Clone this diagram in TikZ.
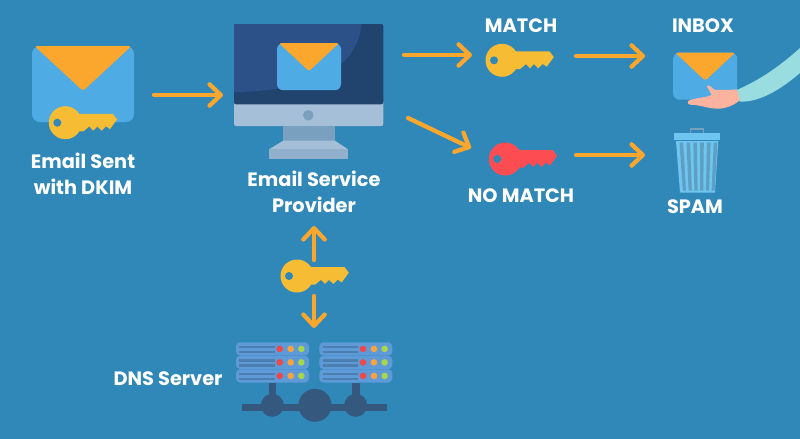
\documentclass[tikz,border=0pt]{standalone}
\usepackage{fontspec}
\setmainfont{Poppins}
\usetikzlibrary{arrows.meta}

\definecolor{bgblue}{HTML}{2F88B8}
\definecolor{mailblue}{HTML}{4EABE3}
\definecolor{flaporange}{HTML}{FBA62C}
\definecolor{keyyellow}{HTML}{F6BC33}
\definecolor{keyred}{HTML}{FE4D52}
\definecolor{screendark}{HTML}{21446F}
\definecolor{screenlight}{HTML}{2C5088}
\definecolor{bezel}{HTML}{A6BFD8}
\definecolor{neckblue}{HTML}{7AA0BF}
\definecolor{footblue}{HTML}{92AFCB}
\definecolor{sleeve}{HTML}{9ADDE0}
\definecolor{skin}{HTML}{FBB3A0}
\definecolor{binlight}{HTML}{6EC5F0}
\definecolor{bingrey}{HTML}{5E9FC4}
\definecolor{rackblue}{HTML}{5E9AD8}
\definecolor{rackbar}{HTML}{4A7FB0}
\definecolor{netdark}{HTML}{35587E}
\definecolor{ledred}{HTML}{F04848}
\definecolor{ledorange}{HTML}{F9A23E}
\definecolor{ledgreen}{HTML}{A8D64A}

\tikzset{
  flow/.style={draw=flaporange,line width=3.2pt,line cap=round,-{Straight Barb[length=8.5pt,width=16pt,round]}},
  caption/.style={text=white,font=\bfseries\fontsize{14.5}{16}\selectfont,inner sep=0pt,align=center},
  every pic/.style={yscale=-1},
  keyicon/.pic={
    \fill[pic actions] (0,0) circle (16.5);
    \fill[pic actions] (10,-8.9) -- (47.5,-8.9) -- (51.8,-3.3) -- (44.7,6.4) -- (40.7,3.6) -- (36.3,8) -- (32,3.8) -- (28,8) -- (24,3.8) -- (18,8.7) -- (10,8.7) -- cycle;
    \fill[bgblue] (-8,0) circle (4);
  },
  bigmail/.pic={
    \fill[mailblue,rounded corners=6] (-51,-38) rectangle (51,38);
    \fill[flaporange,rounded corners=2] (-48.5,-38) -- (48.5,-38) -- (0,7) -- cycle;
  },
  smallmail/.pic={
    \fill[mailblue,rounded corners=4.5] (-32,-23.5) rectangle (32,23.5);
    \fill[flaporange,rounded corners=1.5] (-30,-23.5) -- (30,-23.5) -- (0,4.5) -- cycle;
  },
  rack/.pic={
    \foreach \rowy in {0,13.5,27}{
      \fill[rackblue,rounded corners=3] (0,\rowy) rectangle (73,\rowy+13.2);
      \fill[rackbar] (3.3,\rowy+3.3) rectangle (39,\rowy+5.8);
      \fill[rackbar] (3.3,\rowy+8.3) rectangle (39,\rowy+10.8);
      \fill[ledred] (43.7,\rowy+6.6) circle (3.3);
      \fill[ledorange] (54.7,\rowy+6.6) circle (3.3);
      \fill[ledgreen] (65.3,\rowy+6.6) circle (3.3);
    }
  }
}

\begin{document}
\begin{tikzpicture}[x=0.75pt,y=0.75pt,yscale=-1,xscale=1]
\useasboundingbox (0,0) rectangle (800,439);
\fill[bgblue] (0,0) rectangle (800,439);

%Envelope with key
\pic at (83,84) {bigmail};
\pic[keyyellow] at (65.3,122.7) {keyicon};

%Monitor
\fill[bezel,rounded corners=1.5] (234,100) rectangle (383.3,126);
\fill[screendark,rounded corners=1.5] (234,24) rectangle (383.3,104.3);
\fill[screenlight] (234,24) -- (361.7,24) .. controls (356,72) and (310,90) .. (234,92.3) -- cycle;
\fill[neckblue] (283.3,126) rectangle (335,141);
\fill[bezel] (283.3,140.7) -- (335,140.7) -- (348,149.3) -- (269,149.3) -- cycle;
\fill[footblue] (269,149.3) rectangle (348,159);
\fill[neckblue] (308.3,115.3) circle (5.3);
\pic at (309,66.7) {smallmail};

%Keys
\pic[keyyellow] at (502,60.3) {keyicon};
\pic[keyred] at (505.3,159) {keyicon};
\pic[keyyellow] at (297,276) {keyicon};

%Inbox with hand
\pic at (705.2,76.2) {smallmail};
\fill[sleeve] (800,48) .. controls (780,66) and (760,80) .. (736.7,90) .. controls (737,94) and (738,98) .. (740,101.7) .. controls (760,102) and (780,90) .. (800,73) -- cycle;
\fill[skin] (706.7,86) .. controls (709,84) and (712,88) .. (715,90) .. controls (722,90) and (730,90) .. (736.7,89.3) -- (740,100) .. controls (735,105) and (725,109) .. (716.7,108.7) .. controls (708,108.5) and (698,104.5) .. (690,104.7) .. controls (687,104) and (687,101) .. (690,100) .. controls (697,97.5) and (705,98) .. (711.7,95) -- cycle;

%Trash can
\draw[neckblue,line width=1.1pt] (690.7,133) -- (690.7,129) -- (703.7,129) -- (703.7,133);
\fill[binlight] (676,141) -- (718.3,141) -- (715,192.7) -- (680,192.7) -- cycle;
\foreach \xt/\xb in {679.5/682.8,686.5/688.6,693.3/694.4,700.2/700.1,707/705.9,713.7/711.6}
  \fill[bingrey] (\xt,142.5) -- (\xt+3.6,142.5) -- (\xb+3.2,190.5) -- (\xb,190.5) -- cycle;
\fill[binlight] (674.3,133.3) rectangle (720,140);

%DNS racks
\fill[netdark] (269,383) rectangle (276,396);
\fill[netdark] (352,383) rectangle (359.5,396);
\fill[netdark] (241.7,403.7) rectangle (386.7,411);
\fill[netdark] (272.3,405.3) circle (11.5);
\fill[netdark] (315,405.3) circle (16.5);
\fill[netdark] (355.7,405.3) circle (11.5);
\pic at (236,342.3) {rack};
\pic at (319.3,342.3) {rack};

%Arrow end points
\coordinate (sentout) at (154,95);
\coordinate (ispin) at (223,95);
\coordinate (ispmatch) at (404,55);
\coordinate (matchin) at (472,55);
\coordinate (ispfail) at (408,118);
\coordinate (failin) at (471,148);
\coordinate (matchout) at (576,56);
\coordinate (inboxin) at (645,56);
\coordinate (failout) at (576,155);
\coordinate (spamin) at (645,155);
\coordinate (keyup) at (314,260);
\coordinate (ispdown) at (314,226);
\coordinate (keydown) at (314,296);
\coordinate (dnsup) at (314,328);

%Straight Lines
\draw[flow] (sentout) -- (ispin);
\draw[flow] (ispmatch) -- (matchin);
\draw[flow] (ispfail) -- (failin);
\draw[flow] (matchout) -- (inboxin);
\draw[flow] (failout) -- (spamin);
\draw[flow] (keyup) -- (ispdown);
\draw[flow] (keydown) -- (dnsup);

% Text Node
\node[caption] (sentlabel) at (83,174) {Email Sent\\[3.5pt]with DKIM};
% Text Node
\node[caption] (isplabel) at (314,192) {Email Service\\[3.5pt]Provider};
% Text Node
\node[caption] (matchlabel) at (521,26) {MATCH};
% Text Node
\node[caption] (inboxlabel) at (703,26) {INBOX};
% Text Node
\node[caption] (nomatchlabel) at (521,196) {NO MATCH};
% Text Node
\node[caption] (spamlabel) at (695,207) {SPAM};
% Text Node
\node[caption] (dnslabel) at (168,379) {DNS Server};
\end{tikzpicture}
\end{document}
